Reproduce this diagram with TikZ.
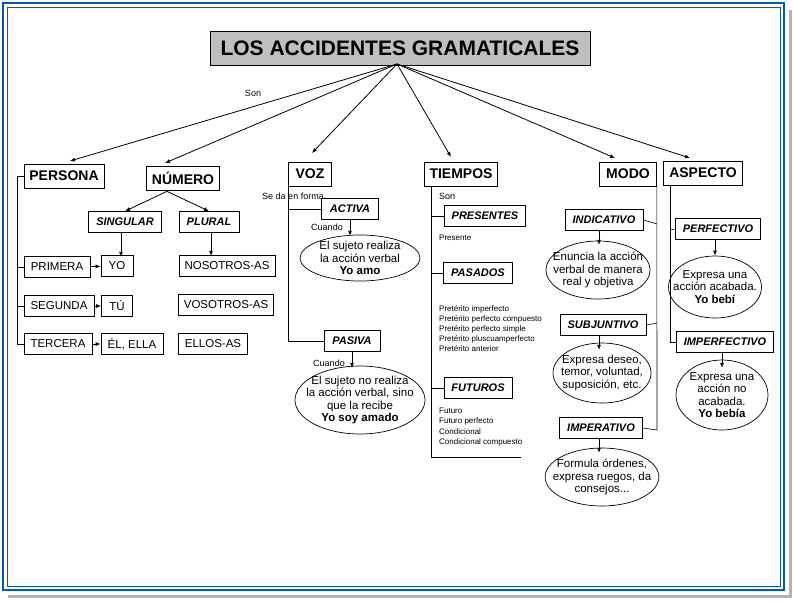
\documentclass[tikz,border=0pt]{standalone}
\usepackage{fontspec}
\setmainfont{Liberation Sans}
\usetikzlibrary{arrows.meta,shapes.geometric,calc}
\tikzset{
   arrow/.style = {-{Latex[length=5pt,width=4pt]},line width=0.8pt},
   brace/.style = {line width=0.6pt},
   main/.style = {rectangle,draw,font=\fontsize{14}{16}\selectfont\bfseries,line width=0.7pt,inner sep=0pt,minimum height=24pt},
   sub/.style = {rectangle,draw,font=\fontsize{11}{13}\selectfont\bfseries\itshape,line width=0.7pt,inner sep=0pt,minimum height=21pt},
   item/.style = {rectangle,draw,font=\fontsize{11.5}{13}\selectfont,line width=0.7pt,inner sep=0pt,minimum height=21pt},
   blob/.style = {ellipse,draw,font=\fontsize{11.5}{12.5}\selectfont,line width=0.7pt,inner xsep=-9pt,inner ysep=-7pt,align=center},
   note/.style = {font=\fontsize{9}{10}\selectfont,inner sep=0pt},
   list/.style = {font=\fontsize{8}{10.2}\selectfont,inner sep=0pt,align=left,anchor=north west},
}
\begin{document}
\begin{tikzpicture}[x=1pt,y=-1pt]
   \useasboundingbox (0,0) rectangle (794,600);
   % frame
   \draw[gray!60,line width=3pt] (8,596) -- (790,596) -- (790,10);
   \draw[blue!50!cyan!70!black,line width=2.5pt] (3,3) rectangle (784,590);
   \draw[blue!50!cyan!70!black,line width=1pt] (7,7) rectangle (780,586);

   \node[rectangle,draw,fill=gray!50,line width=0.8pt,minimum width=380pt,minimum height=34pt,
         font=\fontsize{21}{24}\selectfont\bfseries] (title) at (400,48) {LOS ACCIDENTES GRAMATICALES};
   \coordinate (top) at (397,64);

   % first level
   \node[main,minimum width=80pt] (persona) at (64,176) {PERSONA};
   \node[main,minimum width=73pt] (numero)  at (183,178) {NÚMERO};
   \node[main,minimum width=43pt] (voz)     at (310,174) {VOZ};
   \node[main,minimum width=73pt] (tiempos) at (461,174) {TIEMPOS};
   \node[main,minimum width=57pt] (modo)    at (628,174) {MODO};
   \node[main,minimum width=79pt] (aspecto) at (703,173) {ASPECTO};
   \node[note] (son) at (253,93) {Son};

   \draw[arrow] (top) -- (70,161);
   \draw[arrow] (top) -- (165,163);
   \draw[arrow] (top) -- (312,153);
   \draw[arrow] (top) -- (451,157);
   \draw[arrow] (top) -- (615,158);
   \draw[arrow] (top) -- (690,158);

   % persona / numero
   \node[sub,minimum width=73pt] (singular) at (125,222) {SINGULAR};
   \node[sub,minimum width=60pt] (plural)   at (209,222) {PLURAL};
   \draw[arrow] (numero.south) ++(-16,1) coordinate (nb) -- (singular.north);
   \draw[arrow] (nb) -- (plural.north);

   \node[item,minimum width=66pt] (primera) at (57,267) {PRIMERA};
   \node[item,minimum width=70pt] (segunda) at (59,306) {SEGUNDA};
   \node[item,minimum width=68pt] (tercera) at (58,344) {TERCERA};
   \node[item,minimum width=32pt] (yo)   at (117,266) {YO};
   \node[item,minimum width=31pt] (tu)   at (117,306) {TÚ};
   \node[item,minimum width=62pt] (el)   at (132,344) {ÉL, ELLA};
   \node[item,minimum width=96pt] (noso) at (227,266) {NOSOTROS-AS};
   \node[item,minimum width=95pt] (voso) at (226,305) {VOSOTROS-AS};
   \node[item,minimum width=69pt] (ellos) at (213,344) {ELLOS-AS};

   \draw[brace] (persona.west) -- ++(-6,0) coordinate (pl) |- (tercera.west);
   \draw[brace] (pl |- primera) -- (primera.west);
   \draw[brace] (pl |- segunda) -- (segunda.west);
   \draw[arrow] (primera) -- (yo);
   \draw[arrow] (segunda) -- (tu);
   \draw[arrow] (tercera) -- (el);
   \draw[arrow] (singular.south -| yo.north) ++(4,0) -- ++(0,24);
   \draw[arrow] (plural.south) ++(2,0) -- ++(0,23);

   % voz
   \node[sub,minimum width=57pt] (activa) at (350,209) {ACTIVA};
   \node[sub,minimum width=56pt] (pasiva) at (352,341) {PASIVA};
   \node[note] (seda) at (293,196) {Se da en forma};
   \node[blob,minimum width=120pt,minimum height=46pt] (act) at (360,258) {El sujeto realiza\\la acción verbal\\\textbf{Yo amo}};
   \node[blob,minimum width=130pt,minimum height=68pt] (pas) at (360,400) {El sujeto no realiza\\la acción verbal, sino\\que la recibe\\\textbf{Yo soy amado}};
   \node[note] (cu1) at (327,227) {Cuando};
   \node[note] (cu2) at (329,363) {Cuando};
   \draw[brace] (voz.south west) |- (pasiva.west);
   \draw[brace] (voz.south west |- activa) -- (activa.west);
   \draw[arrow] (activa.south) -- ++(0,16);
   \draw[arrow] (pasiva.south) -- ++(0,16);

   % tiempos
   \node[note] (son2) at (447,196) {Son};
   \node[sub,minimum width=81pt] (pres) at (485,216) {PRESENTES};
   \node[sub,minimum width=69pt] (pasa) at (478,273) {PASADOS};
   \node[sub,minimum width=68pt] (futu) at (478,388) {FUTUROS};
   \node[list] (presl) at (439,235) {Presente};
   \node[list] (pasl) at (439,305) {Pretérito imperfecto\\Pretérito perfecto compuesto\\Pretérito perfecto simple\\Pretérito pluscuamperfecto\\Pretérito anterior};
   \node[list] (futl) at (439,408) {Futuro\\Futuro perfecto\\Condicional\\Condicional compuesto};
   \coordinate (tend) at (521,457);
   \draw[brace] (431,186) |- (tend);
   \draw[brace] (431,216) -- (pres.west);
   \draw[brace] (431,273) -- (pasa.west);
   \draw[brace] (431,388) -- (futu.west);

   % modo
   \node[sub,minimum width=78pt] (indi) at (604,220) {INDICATIVO};
   \node[sub,minimum width=86pt] (subj) at (603,325) {SUBJUNTIVO};
   \node[sub,minimum width=83pt] (impe) at (601,428) {IMPERATIVO};
   \node[blob,minimum width=104pt,minimum height=58pt] (ind) at (598,270) {Enuncia la acción\\verbal de manera\\real y objetiva};
   \node[blob,minimum width=98pt,minimum height=60pt] (sub) at (602,373) {Expresa deseo,\\temor, voluntad,\\suposición, etc.};
   \node[blob,minimum width=98pt,minimum height=58pt] (imp) at (602,477) {Formula órdenes,\\expresa ruegos, da\\consejos...};
   \draw[brace] (modo.south east) -- (657,430) -- (impe.east);
   \draw[brace] (657,224) -- (indi.east);
   \draw[brace] (657,323) -- (subj.east);
   \draw[arrow] (indi.south) ++(-5,0) -- ++(0,14);
   \draw[arrow] (subj.south) ++(-4,0) -- ++(0,14);
   \draw[arrow] (impe.south) ++(-2,0) -- ++(0,14);

   % aspecto
   \node[sub,minimum width=85pt] (perf) at (718,229) {PERFECTIVO};
   \node[sub,minimum width=97pt] (imperf) at (725,342) {IMPERFECTIVO};
   \node[blob,minimum width=90pt,minimum height=62pt] (per) at (715,287) {Expresa una\\acción acabada.\\\textbf{Yo bebí}};
   \node[blob,minimum width=92pt,minimum height=70pt] (imf) at (722,395) {Expresa una\\acción no\\acabada.\\\textbf{Yo bebía}};
   \draw[brace] (670,186) |- (imperf.west);
   \draw[brace] (670,230) -- (perf.west);
   \draw[arrow] (perf.south) ++(-3,0) -- (per.north);
   \draw[arrow] (imperf.south) ++(-3,0) -- ++(0,15);
\end{tikzpicture}
\end{document}
